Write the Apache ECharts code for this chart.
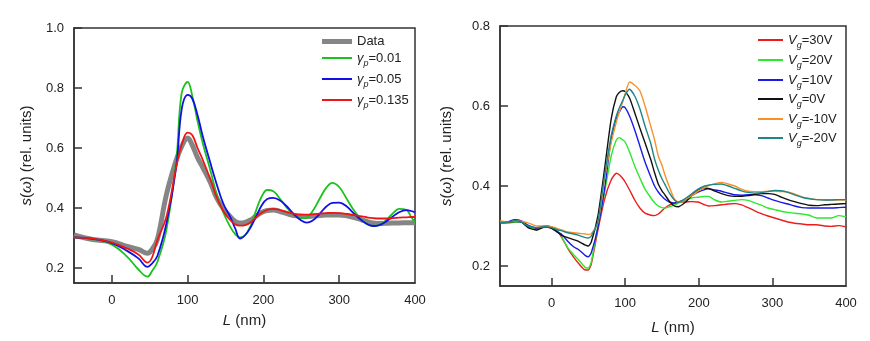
<!DOCTYPE html>
<html>
<head>
<meta charset="utf-8">
<script src="https://cdn.jsdelivr.net/npm/echarts@6/dist/echarts.min.js"></script>
<style>
html, body { margin: 0; padding: 0; background: #fff; }
#main { width: 870px; height: 341px; }
</style>
</head>
<body>
<div id="main"></div>
<script>
// left panel: L (nm) vs s(w), model fits
var xLeft = [-50, -25, 0, 20, 35, 47, 53, 60, 72, 85, 92, 100, 106, 113, 120, 130, 138, 147, 156, 163, 169, 176, 183, 190, 198, 205, 213, 222, 231, 240, 249, 257, 265, 274, 283, 291, 300, 310, 320, 330, 338, 345, 352, 360, 370, 379, 389, 395, 400]
var yData = [0.31, 0.295, 0.288, 0.272, 0.262, 0.249, 0.262, 0.295, 0.445, 0.56, 0.605, 0.633, 0.61, 0.568, 0.535, 0.485, 0.435, 0.398, 0.372, 0.355, 0.35, 0.352, 0.36, 0.373, 0.386, 0.392, 0.393, 0.388, 0.381, 0.375, 0.373, 0.372, 0.373, 0.375, 0.377, 0.377, 0.377, 0.374, 0.368, 0.36, 0.354, 0.35, 0.348, 0.349, 0.35, 0.35, 0.351, 0.351, 0.351]
var yG001 = [0.301, 0.296, 0.278, 0.238, 0.195, 0.171, 0.19, 0.22, 0.327, 0.56, 0.782, 0.82, 0.775, 0.69, 0.615, 0.525, 0.449, 0.385, 0.338, 0.312, 0.302, 0.31, 0.34, 0.39, 0.44, 0.46, 0.456, 0.43, 0.4, 0.378, 0.366, 0.368, 0.39, 0.43, 0.468, 0.484, 0.47, 0.43, 0.39, 0.36, 0.344, 0.34, 0.343, 0.355, 0.38, 0.397, 0.393, 0.37, 0.352]
var yG005 = [0.302, 0.297, 0.283, 0.257, 0.232, 0.204, 0.215, 0.24, 0.349, 0.538, 0.727, 0.777, 0.765, 0.71, 0.638, 0.55, 0.482, 0.415, 0.371, 0.33, 0.298, 0.31, 0.335, 0.37, 0.41, 0.43, 0.434, 0.425, 0.405, 0.38, 0.36, 0.351, 0.358, 0.38, 0.405, 0.417, 0.418, 0.405, 0.38, 0.358, 0.345, 0.34, 0.342, 0.352, 0.37, 0.386, 0.393, 0.39, 0.385]
var yG0135 = [0.302, 0.298, 0.285, 0.265, 0.245, 0.218, 0.235, 0.293, 0.371, 0.538, 0.61, 0.651, 0.643, 0.6, 0.56, 0.495, 0.438, 0.39, 0.36, 0.345, 0.341, 0.343, 0.352, 0.368, 0.385, 0.394, 0.397, 0.393, 0.386, 0.381, 0.378, 0.378, 0.379, 0.381, 0.383, 0.384, 0.383, 0.38, 0.376, 0.372, 0.368, 0.366, 0.365, 0.365, 0.366, 0.368, 0.369, 0.37, 0.37]

// right panel: gate voltage series
var xRight = [-70, -60, -50, -41, -32, -20, -9, 0, 9, 14, 22, 30, 36, 46, 50, 54, 63, 72, 81, 88, 92, 97, 100, 106, 113, 120, 127, 135, 140, 145, 150, 154, 160, 167, 172, 181, 190, 199, 208, 213, 222, 231, 240, 249, 258, 267, 276, 285, 294, 303, 312, 321, 330, 340, 350, 360, 371, 380, 390, 400]
var yV30 = [0.31, 0.308, 0.312, 0.311, 0.298, 0.293, 0.298, 0.296, 0.285, 0.271, 0.244, 0.222, 0.208, 0.19, 0.19, 0.205, 0.29, 0.367, 0.415, 0.432, 0.428, 0.418, 0.41, 0.39, 0.365, 0.345, 0.332, 0.327, 0.326, 0.33, 0.338, 0.345, 0.352, 0.358, 0.36, 0.36, 0.361, 0.36, 0.353, 0.35, 0.351, 0.353, 0.355, 0.356, 0.353, 0.346, 0.338, 0.331, 0.325, 0.32, 0.315, 0.31, 0.307, 0.305, 0.303, 0.303, 0.3, 0.299, 0.301, 0.298]
var yV20 = [0.308, 0.307, 0.31, 0.311, 0.3, 0.29, 0.3, 0.297, 0.286, 0.272, 0.246, 0.228, 0.217, 0.196, 0.195, 0.21, 0.3, 0.383, 0.475, 0.515, 0.521, 0.515, 0.51, 0.485, 0.45, 0.42, 0.392, 0.37, 0.358, 0.35, 0.346, 0.345, 0.348, 0.352, 0.357, 0.364, 0.37, 0.372, 0.374, 0.374, 0.365, 0.36, 0.362, 0.364, 0.366, 0.364, 0.358, 0.352, 0.345, 0.341, 0.337, 0.334, 0.332, 0.33, 0.327, 0.32, 0.32, 0.32, 0.326, 0.323]
var yV10 = [0.309, 0.31, 0.316, 0.313, 0.302, 0.295, 0.3, 0.297, 0.284, 0.279, 0.262, 0.248, 0.242, 0.226, 0.223, 0.233, 0.296, 0.392, 0.517, 0.57, 0.585, 0.598, 0.596, 0.575, 0.54, 0.5, 0.46, 0.422, 0.4, 0.385, 0.374, 0.367, 0.36, 0.357, 0.36, 0.366, 0.376, 0.385, 0.391, 0.393, 0.39, 0.387, 0.382, 0.378, 0.377, 0.378, 0.378, 0.376, 0.37, 0.364, 0.359, 0.355, 0.35, 0.346, 0.345, 0.345, 0.345, 0.345, 0.346, 0.347]
var yV0 = [0.308, 0.309, 0.311, 0.31, 0.296, 0.29, 0.298, 0.294, 0.283, 0.276, 0.271, 0.266, 0.262, 0.252, 0.25, 0.26, 0.325, 0.442, 0.567, 0.623, 0.634, 0.638, 0.636, 0.62, 0.583, 0.545, 0.508, 0.465, 0.433, 0.405, 0.388, 0.378, 0.362, 0.35, 0.348, 0.358, 0.375, 0.389, 0.395, 0.394, 0.387, 0.381, 0.376, 0.374, 0.374, 0.376, 0.379, 0.381, 0.381, 0.379, 0.372, 0.366, 0.361, 0.356, 0.352, 0.351, 0.353, 0.354, 0.355, 0.356]
var yVm10 = [0.313, 0.31, 0.312, 0.312, 0.308, 0.3, 0.3, 0.298, 0.293, 0.29, 0.285, 0.283, 0.282, 0.28, 0.279, 0.281, 0.308, 0.417, 0.508, 0.56, 0.585, 0.612, 0.63, 0.66, 0.652, 0.638, 0.6, 0.548, 0.515, 0.475, 0.452, 0.428, 0.398, 0.367, 0.36, 0.366, 0.375, 0.387, 0.396, 0.401, 0.406, 0.409, 0.405, 0.4, 0.392, 0.387, 0.386, 0.386, 0.387, 0.387, 0.386, 0.385, 0.38, 0.373, 0.369, 0.366, 0.365, 0.365, 0.365, 0.365]
var yVm20 = [0.308, 0.31, 0.313, 0.31, 0.3, 0.296, 0.298, 0.296, 0.29, 0.288, 0.283, 0.28, 0.277, 0.271, 0.27, 0.275, 0.312, 0.425, 0.525, 0.575, 0.595, 0.615, 0.628, 0.642, 0.625, 0.593, 0.55, 0.505, 0.467, 0.44, 0.418, 0.404, 0.383, 0.365, 0.359, 0.368, 0.38, 0.392, 0.4, 0.402, 0.404, 0.405, 0.4, 0.394, 0.388, 0.384, 0.382, 0.383, 0.386, 0.389, 0.388, 0.384, 0.378, 0.372, 0.368, 0.366, 0.365, 0.365, 0.366, 0.366]

var xTicks = [0, 100, 200, 300, 400]
var yTicksLeft = [0.2, 0.4, 0.6, 0.8, 1.0]
var yTicksRight = [0.2, 0.4, 0.6, 0.8]

var font = 'Liberation Sans, Arial, sans-serif'
var txt = '#222'

function pairs(xs, ys) {
    return xs.map(function(x, i) { return [x, ys[i]] })
}

function line(name, xs, ys, color, width, grid, smooth) {
    return {
        name: name,
        type: 'line',
        xAxisIndex: grid, yAxisIndex: grid,
        data: pairs(xs, ys),
        symbol: 'none',
        smooth: smooth,
        lineStyle: { color: color, width: width },
        itemStyle: { color: color },
        animation: false
    }
}

var richLegend = {
    i: { fontStyle: 'italic', fontSize: 13, fontFamily: font, color: txt },
    s: { fontStyle: 'italic', fontSize: 9, fontFamily: font, color: txt, padding: [10, 0, 0, 0] },
    n: { fontSize: 13, fontFamily: font, color: txt }
}

var labels = {
    'Data': '{n|Data}',
    'γp=0.01': '{i|γ}{s|p}{n|=0.01}',
    'γp=0.05': '{i|γ}{s|p}{n|=0.05}',
    'γp=0.135': '{i|γ}{s|p}{n|=0.135}',
    'Vg=30V': '{i|V}{s|g}{n|=30V}',
    'Vg=20V': '{i|V}{s|g}{n|=20V}',
    'Vg=10V': '{i|V}{s|g}{n|=10V}',
    'Vg=0V': '{i|V}{s|g}{n|=0V}',
    'Vg=-10V': '{i|V}{s|g}{n|=-10V}',
    'Vg=-20V': '{i|V}{s|g}{n|=-20V}'
}

// one legend per row so each row sits where the reference has it
function legendRow(name, left, center, w, h) {
    var plain = name == 'Data'
    return {
        data: [name],
        left: left, top: center - (plain ? 5 : 5.5),
        padding: 0,
        icon: 'rect',
        itemWidth: w, itemHeight: h,
        selectedMode: false,
        formatter: function(n) { return labels[n] },
        textStyle: { fontSize: 13, fontFamily: font, color: txt, rich: richLegend }
    }
}

function xAxis(grid, min, gap) {
    return {
        type: 'value', gridIndex: grid, min: min, max: 400,
        name: '{i|L} (nm)', nameLocation: 'middle', nameGap: gap,
        nameTextStyle: { fontSize: 15, fontFamily: font, color: txt,
            rich: { i: { fontStyle: 'italic', fontSize: 15, fontFamily: font, color: txt } } },
        axisLine: { onZero: false, lineStyle: { color: '#333', width: 1.5 } },
        axisTick: { inside: true, length: 8, customValues: [0, 100, 200, 300], lineStyle: { color: '#333', width: 1.5 } },
        axisLabel: { customValues: xTicks, fontSize: 13, fontFamily: font, color: txt, margin: 11 },
        splitLine: { show: false }
    }
}

function yAxis(grid, max, ticks, gap) {
    return {
        type: 'value', gridIndex: grid, min: 0.15, max: max,
        name: '{i|s}({i|ω}) (rel. units)', nameLocation: 'middle', nameGap: gap,
        nameTextStyle: { fontSize: 15, fontFamily: font, color: txt,
            rich: { i: { fontStyle: 'italic', fontSize: 15, fontFamily: font, color: txt } } },
        axisLine: { onZero: false, lineStyle: { color: '#333', width: 1.5 } },
        axisTick: { inside: true, length: 8, customValues: ticks, lineStyle: { color: '#333', width: 1.5 } },
        axisLabel: { customValues: ticks, fontSize: 13, fontFamily: font, color: txt, margin: 10,
            formatter: function(v) { return v.toFixed(1) } },
        splitLine: { show: false }
    }
}

var myChart = echarts.init(document.getElementById('main'))

var option = {
    animation: false,
    backgroundColor: '#fff',
    grid: [
        { left: 74, top: 28, width: 341, height: 255, show: true, borderColor: '#333', borderWidth: 1.5 },
        { left: 500, top: 26, width: 346, height: 260, show: true, borderColor: '#333', borderWidth: 1.5 }
    ],
    xAxis: [xAxis(0, -50, 30), xAxis(1, -70, 34)],
    yAxis: [yAxis(0, 1.0, yTicksLeft, 40), yAxis(1, 0.8, yTicksRight, 46)],
    legend: [
        legendRow('Data', 322, 40, 30, 5),
        legendRow('γp=0.01', 322, 57, 30, 2),
        legendRow('γp=0.05', 322, 78, 30, 2),
        legendRow('γp=0.135', 322, 99, 30, 2),
        legendRow('Vg=30V', 758, 39, 25, 2),
        legendRow('Vg=20V', 758, 59, 25, 2),
        legendRow('Vg=10V', 758, 79, 25, 2),
        legendRow('Vg=0V', 758, 98, 25, 2),
        legendRow('Vg=-10V', 758, 118, 25, 2),
        legendRow('Vg=-20V', 758, 137, 25, 2)
    ],
    series: [
        line('Data', xLeft, yData, '#858585', 5, 0, 0.4),
        line('γp=0.01', xLeft, yG001, '#1cc21c', 1.8, 0, 0.4),
        line('γp=0.05', xLeft, yG005, '#1010e6', 1.8, 0, 0.4),
        line('γp=0.135', xLeft, yG0135, '#ee1515', 1.8, 0, 0.4),
        line('Vg=30V', xRight, yV30, '#ee1c1c', 1.4, 1, 0.2),
        line('Vg=20V', xRight, yV20, '#2ee82e', 1.4, 1, 0.2),
        line('Vg=10V', xRight, yV10, '#1a1ae8', 1.4, 1, 0.2),
        line('Vg=0V', xRight, yV0, '#111111', 1.4, 1, 0.2),
        line('Vg=-10V', xRight, yVm10, '#f7922a', 1.4, 1, 0.2),
        line('Vg=-20V', xRight, yVm20, '#1f8585', 1.4, 1, 0.2)
    ]
}

myChart.setOption(option)
</script>
</body>
</html>
